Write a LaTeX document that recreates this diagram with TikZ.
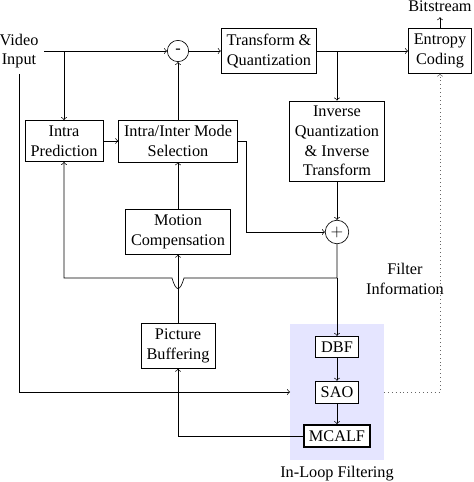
\documentclass[tikz,border=0pt]{standalone}
\usepackage{fontspec}
\setmainfont{Liberation Serif}
\usetikzlibrary{positioning,backgrounds,fit,calc}
\tikzset{
  blk/.style={ draw, align=center }
}
\tikzset{
  sumnode/.style={ draw, circle, inner sep=1.5pt, minimum size=4.6mm }
}
\tikzset{
  loopblk/.style={ draw, fill=white }
}
\tikzset{
  txt/.style={ align=center }
}

\begin{document}
\begin{tikzpicture}[x=0.0216cm, y=-0.0216cm]
      \useasboundingbox (0,0) rectangle (474,482);

      \node[txt] (vin) at (19, 51) {Video\\Input};
      \node[sumnode] (minus) at (178, 51) {-};
      \node[blk] (tq) at (269, 51) {Transform \&\\Quantization};
      \node[blk] (ec) at (440, 51) {Entropy\\Coding};
      \node[txt] (bits) at (440, 6) {Bitstream};

      \node[blk] (ip) at (64, 141) {Intra\\Prediction};
      \node[blk] (ms) at (178, 141) {Intra/Inter Mode\\Selection};
      \node[blk] (iq) at (337, 141) {Inverse\\Quantization\\\& Inverse\\Transform};

      \node[blk] (mc) at (178, 232) {Motion\\Compensation};
      \node[sumnode] (plus) at (337, 232) {$+$};
      \coordinate (fb) at (337, 278);
      \node[txt] (finfo) at (405, 279) {Filter\\Information};

      \node[blk] (pb) at (178, 346) {Picture\\Buffering};
      \node[loopblk] (dbf) at (337, 347) {DBF};
      \node[loopblk] (sao) at (337, 392) {SAO};
      \node[loopblk, line width=1.2pt] (mcalf) at (337, 436) {MCALF};

      \begin{scope}[on background layer]
        \node[fit=(dbf)(sao)(mcalf), fill=blue!10, inner sep=7.5pt,
              label=below:{In-Loop Filtering}] (loop) {};
      \end{scope}

      \begin{scope}[->]
        \draw (vin) -- (minus);
        \draw (vin -| ip) -- (ip);
        \draw (vin) |- (sao -| loop.west);
        \draw (minus) -- (tq);
        \draw (tq) -- (ec);
        \draw (tq -| iq) -- (iq);
        \draw (ec) -- (bits);

        \draw (ip) -- (ms);
        \draw (ms) -- (minus);
        \draw (ms.east) -- ++(9, 0) |- (plus);
        \draw (iq) -- (plus);
        \draw (mc) -- (ms);

        \draw (plus) -- (fb) -- ($(fb -| mc)+(6, 0)$)
              .. controls +(-4, 14) and +(4, 14) .. ($(fb -| mc)+(-6, 0)$)
              -- (fb -| ip) -- (ip);
        \draw (fb) -- (dbf);
        \draw (pb) -- (mc);

        \draw (dbf) -- (sao);
        \draw (sao) -- (mcalf);
        \draw (mcalf) -| (pb);
        \draw[dotted, gray!80!black] (sao -| loop.east) -| (ec);
      \end{scope}
    \end{tikzpicture}
\end{document}
